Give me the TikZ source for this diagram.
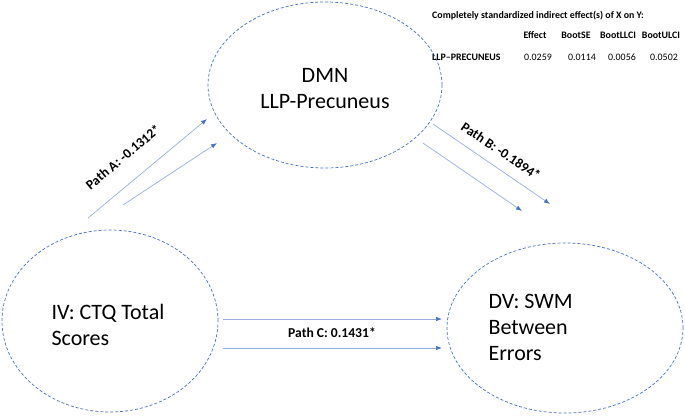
\documentclass[tikz,border=0pt]{standalone}
\usepackage{fontspec}
\setmainfont{Carlito}
\usetikzlibrary{arrows.meta,positioning,shapes.geometric}

\definecolor{rimblue}{RGB}{68,114,196}
\definecolor{lineblue}{RGB}{150,175,222}

\begin{document}
\begin{tikzpicture}[
        x=1pt, y=-1pt,
        var/.style={ellipse, draw=rimblue, densely dashed, line width=0.7pt, inner sep=0pt},
        vartext/.style={font=\fontsize{22}{26}\selectfont, align=left, text=black},
        pathlabel/.style={font=\fontsize{13.6}{15}\selectfont\bfseries},
        tab/.style={font=\fontsize{9.9}{11}\selectfont, inner sep=0pt},
        tabhead/.style={tab, font=\fontsize{9.9}{11}\selectfont\bfseries},
        arrow/.style={-{Latex[length=6pt,width=4.5pt,color=rimblue]}, draw=lineblue, line width=0.7pt}
    ]
        \useasboundingbox (0,0) rectangle (685,416);

        % Variables
        \node[var, minimum width=234pt, minimum height=166pt] (dmn) at (325,85) {};
        \node[var, minimum width=216pt, minimum height=182pt] (iv) at (110,321) {};
        \node[var, minimum width=236pt, minimum height=170pt] (dv) at (565,328) {};

        \node[vartext, align=center] (dmnlab) at (325,89) {DMN\\LLP-Precuneus};
        \node[vartext, anchor=west] (ivlab) at (48,325) {IV: CTQ Total\\Scores};
        \node[vartext, anchor=west] (dvlab) at (485,327) {DV: SWM\\Between\\Errors};

        % Path A
        \coordinate (a1s) at (88,218);  \coordinate (a1e) at (207,119);
        \coordinate (a2s) at (123,205); \coordinate (a2e) at (217,143);
        \draw[arrow] (a1s) -- (a1e);
        \draw[arrow] (a2s) -- (a2e);
        \node[pathlabel, rotate=40] (pa) at (123,157) {Path A: -0.1312*};

        % Path B
        \coordinate (b1s) at (433,124); \coordinate (b1e) at (550,204);
        \coordinate (b2s) at (423,143); \coordinate (b2e) at (522,211);
        \draw[arrow] (b1s) -- (b1e);
        \draw[arrow] (b2s) -- (b2e);
        \node[pathlabel, rotate=-34] (pb) at (501,151) {Path B: -0.1894*};

        % Path C
        \coordinate (c1s) at (223,319); \coordinate (c1e) at (442,319);
        \coordinate (c2s) at (223,348); \coordinate (c2e) at (442,348);
        \draw[arrow] (c1s) -- (c1e);
        \draw[arrow] (c2s) -- (c2e);
        \node[pathlabel] (pc) at (332,333) {Path C: 0.1431*};

        % Indirect effect table
        \node[tabhead, anchor=west] (title) at (432,16) {Completely standardized indirect effect(s) of X on Y:};
        \node[tabhead] (h1) at (535,35) {Effect};
        \node[tabhead] (h2) at (576,35) {BootSE};
        \node[tabhead] (h3) at (618,35) {BootLLCI};
        \node[tabhead] (h4) at (661,35) {BootULCI};
        \node[tabhead, anchor=west] (rowlab) at (432,57) {LLP--PRECUNEUS};
        \node[tab] (v1) at (538,57) {0.0259};
        \node[tab] (v2) at (582,57) {0.0114};
        \node[tab] (v3) at (622,57) {0.0056};
        \node[tab] (v4) at (664,57) {0.0502};
    \end{tikzpicture}
\end{document}
